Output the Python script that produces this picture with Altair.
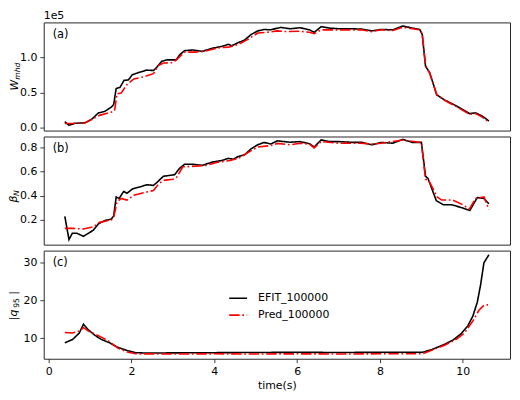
import altair as alt
import pandas as pd

SERIES = ["EFIT_100000", "Pred_100000"]
FONT = "DejaVu Sans"

# ---------- panel (a): W_mhd (units of 1e5) ----------
T_W_EFIT = [0.39, 0.49, 0.64, 0.88, 1.04, 1.20, 1.35, 1.51, 1.57, 1.63, 1.72, 1.82, 1.92, 2.02, 2.22,
            2.37, 2.53, 2.61, 2.73, 2.85, 3.08, 3.16, 3.28, 3.47, 3.71, 3.95, 4.18, 4.34, 4.42, 4.58,
            4.73, 4.89, 5.05, 5.20, 5.36, 5.60, 5.83, 6.07, 6.30, 6.41, 6.58, 6.78, 7.01, 7.33, 7.56,
            7.80, 8.03, 8.31, 8.55, 8.74, 8.96, 9.02, 9.10, 9.20, 9.37, 9.57, 9.84, 10.16, 10.31, 10.47, 10.63]
W_EFIT = [0.085, 0.035, 0.063, 0.07, 0.12, 0.21, 0.23, 0.29, 0.33, 0.555, 0.57, 0.67, 0.675, 0.75, 0.79,
          0.815, 0.81, 0.855, 0.94, 0.96, 0.96, 1.03, 1.09, 1.10, 1.08, 1.125, 1.15, 1.18, 1.16, 1.205,
          1.24, 1.32, 1.37, 1.39, 1.385, 1.42, 1.40, 1.415, 1.385, 1.35, 1.43, 1.41, 1.40, 1.40, 1.395,
          1.37, 1.39, 1.385, 1.44, 1.415, 1.39, 1.32, 0.87, 0.78, 0.465, 0.39, 0.31, 0.20, 0.21, 0.165, 0.095]
T_W_PRED = [0.39, 0.57, 0.88, 1.08, 1.23, 1.51, 1.59, 1.65, 1.75, 1.90, 2.06, 2.29, 2.53, 2.65, 2.77,
            3.00, 3.12, 3.28, 3.55, 3.79, 4.10, 4.34, 4.58, 4.81, 5.05, 5.36, 5.52, 5.75, 6.07, 6.30,
            6.41, 6.58, 7.01, 7.56, 7.80, 8.03, 8.31, 8.55, 8.96, 9.02, 9.10, 9.20, 9.37, 9.57, 9.84,
            10.16, 10.31, 10.47, 10.63]
W_PRED = [0.06, 0.06, 0.07, 0.13, 0.175, 0.22, 0.24, 0.48, 0.49, 0.62, 0.69, 0.72, 0.765, 0.88, 0.915,
          0.92, 0.98, 1.07, 1.07, 1.085, 1.13, 1.14, 1.18, 1.25, 1.34, 1.355, 1.37, 1.36, 1.365, 1.35,
          1.33, 1.385, 1.385, 1.385, 1.36, 1.385, 1.375, 1.42, 1.385, 1.33, 0.88, 0.77, 0.47, 0.385, 0.30,
          0.19, 0.20, 0.15, 0.08]

# ---------- panel (b): beta_N ----------
T_B_EFIT = [0.39, 0.49, 0.57, 0.68, 0.84, 0.96, 1.08, 1.20, 1.35, 1.51, 1.57, 1.63, 1.70, 1.81, 1.89,
            2.02, 2.22, 2.37, 2.53, 2.61, 2.77, 3.04, 3.16, 3.28, 3.47, 3.71, 3.95, 4.18, 4.34, 4.46,
            4.58, 4.73, 4.89, 5.05, 5.20, 5.36, 5.52, 5.83, 6.07, 6.30, 6.41, 6.58, 6.78, 7.01, 7.33,
            7.56, 7.80, 8.03, 8.31, 8.55, 8.78, 9.00, 9.10, 9.16, 9.36, 9.53, 9.72, 9.92, 10.17, 10.35,
            10.51, 10.63]
B_EFIT = [0.229, 0.038, 0.09, 0.09, 0.065, 0.09, 0.116, 0.168, 0.194, 0.207, 0.233, 0.39, 0.377, 0.435, 0.42,
          0.455, 0.474, 0.49, 0.485, 0.508, 0.56, 0.573, 0.625, 0.659, 0.659, 0.65, 0.677, 0.69, 0.708, 0.70,
          0.724, 0.737, 0.787, 0.82, 0.839, 0.826, 0.852, 0.841, 0.846, 0.828, 0.802, 0.86, 0.846, 0.846, 0.84,
          0.84, 0.82, 0.839, 0.833, 0.864, 0.84, 0.84, 0.56, 0.542, 0.359, 0.325, 0.325, 0.307, 0.278, 0.385,
          0.377, 0.333]
T_B_PRED = [0.39, 0.57, 0.84, 1.08, 1.23, 1.51, 1.57, 1.65, 1.75, 1.89, 2.06, 2.29, 2.53, 2.65, 2.77,
            3.00, 3.08, 3.24, 3.55, 3.79, 4.10, 4.38, 4.58, 4.81, 5.05, 5.36, 5.52, 5.83, 6.07, 6.30,
            6.41, 6.58, 7.01, 7.56, 7.80, 8.03, 8.55, 9.00, 9.10, 9.17, 9.38, 9.49, 9.76, 10.00, 10.16,
            10.31, 10.51, 10.63]
B_PRED = [0.13, 0.13, 0.125, 0.143, 0.18, 0.20, 0.22, 0.35, 0.377, 0.364, 0.403, 0.424, 0.443, 0.495, 0.526,
          0.535, 0.547, 0.638, 0.643, 0.65, 0.677, 0.69, 0.708, 0.755, 0.802, 0.813, 0.831, 0.82, 0.833, 0.825,
          0.794, 0.846, 0.833, 0.833, 0.825, 0.833, 0.859, 0.837, 0.535, 0.53, 0.39, 0.364, 0.364, 0.325, 0.29,
          0.377, 0.39, 0.287]

# ---------- panel (c): |q95| ----------
T_Q_EFIT = [0.39, 0.58, 0.74, 0.84, 0.96, 1.12, 1.27, 1.47, 1.67, 1.90, 2.10, 2.37, 3.0, 4.0, 5.0,
            6.0, 7.0, 8.0, 9.02, 9.25, 9.53, 9.76, 9.96, 10.12, 10.24, 10.35, 10.43, 10.51, 10.63]
Q_EFIT = [8.8, 9.7, 11.4, 13.7, 12.2, 10.75, 9.7, 8.8, 7.6, 6.75, 6.2, 6.1, 6.15, 6.2, 6.25,
          6.3, 6.25, 6.3, 6.3, 7.0, 8.25, 9.5, 11.2, 13.25, 15.75, 19.5, 24.1, 29.9, 32.0]
T_Q_PRED = [0.39, 0.57, 0.74, 0.84, 0.96, 1.12, 1.27, 1.47, 1.67, 1.90, 2.10, 3.0, 4.0, 5.0, 6.0,
            7.0, 8.0, 9.02, 9.29, 9.57, 9.84, 10.04, 10.24, 10.39, 10.51, 10.61]
Q_PRED = [11.5, 11.4, 11.9, 12.8, 11.9, 11.1, 10.3, 9.1, 7.4, 6.4, 5.9, 5.85, 5.9, 5.85, 5.9,
          5.85, 5.9, 5.9, 7.0, 8.25, 9.7, 11.4, 14.5, 17.4, 18.7, 18.8]

X_TICKS = [0, 2, 4, 6, 8, 10]
X_DOMAIN = [-0.12, 11.14]

W, H = 470, 109
TB = -26  # baseline offset of rotated y titles (relative to plot left)


def frame(t1, v1, t2, v2):
    return pd.concat([
        pd.DataFrame({"t": t1, "v": v1, "series": SERIES[0]}),
        pd.DataFrame({"t": t2, "v": v2, "series": SERIES[1]}),
    ], ignore_index=True)


one = pd.DataFrame({"d": [0]})


def txt(text, x, y, size=11, style="normal", angle=0, align="left"):
    return alt.Chart(one).mark_text(
        text=text, font=FONT, fontSize=size, fontStyle=style, angle=angle,
        align=align, baseline="alphabetic", color="black"
    ).encode(x=alt.value(x), y=alt.value(y))


def lines(df, ydomain, yticks, yfmt, show_x, legend):
    if show_x:
        xenc = alt.X("t:Q", scale=alt.Scale(domain=X_DOMAIN, nice=False, zero=False),
                     axis=alt.Axis(values=X_TICKS, format="d", title="time(s)"))
    else:
        xenc = alt.X("t:Q", scale=alt.Scale(domain=X_DOMAIN, nice=False, zero=False), axis=None)
    leg = None
    if legend:
        leg = alt.Legend(title=None, orient="none", legendX=186, legendY=38,
                         symbolType="stroke", symbolSize=324, symbolStrokeWidth=1.6,
                         labelFont=FONT, labelFontSize=11, labelColor="black",
                         labelOffset=10, padding=0, rowPadding=2)
    return alt.Chart(df).mark_line(strokeWidth=1.6, clip=True).encode(
        x=xenc,
        y=alt.Y("v:Q", scale=alt.Scale(domain=ydomain, nice=False, zero=False),
                axis=alt.Axis(values=yticks, format=yfmt, title=None)),
        color=alt.Color("series:N", scale=alt.Scale(domain=SERIES, range=["black", "red"]), legend=leg),
        strokeDash=alt.StrokeDash("series:N",
                                  scale=alt.Scale(domain=SERIES, range=[[1, 0], [10.5, 2.7, 1.7, 2.7]]),
                                  legend=leg),
        order=alt.Order("t:Q"),
    )


c_mid = H / 2

pa = alt.layer(
    lines(frame(T_W_EFIT, W_EFIT, T_W_PRED, W_PRED), [-0.04, 1.49], [0.0, 0.5, 1.0], ".1f", False, False),
    txt("(a)", 9, 16, size=11.5),
    txt("1e5", 0, -3),
    txt("W", TB, c_mid + 14, style="italic", angle=270),
    txt("mhd", TB + 1.7, c_mid + 3.3, size=7.7, style="italic", angle=270),
).properties(width=W, height=H)

pb = alt.layer(
    lines(frame(T_B_EFIT, B_EFIT, T_B_PRED, B_PRED), [-0.004, 0.888], [0.2, 0.4, 0.6, 0.8], ".1f", False, False),
    txt("(b)", 9, 16, size=11.5),
    txt("β", TB - 0.5, c_mid + 12, style="italic", angle=270),
    txt("N", TB + 1.2, c_mid + 5.4, size=7.7, style="italic", angle=270),
).properties(width=W, height=H)

pc = alt.layer(
    lines(frame(T_Q_EFIT, Q_EFIT, T_Q_PRED, Q_PRED), [4.6, 33.1], [10, 20, 30], "d", True, True),
    txt("(c)", 9, 16, size=11.5),
    txt("|", TB - 0.5, c_mid + 16, angle=270),
    txt("q", TB - 0.5, c_mid + 12, style="italic", angle=270),
    txt("95", TB + 1, c_mid + 3.2, size=7.7, angle=270),
    txt("|", TB - 0.5, c_mid - 10, angle=270),
).properties(width=W, height=H)

chart = alt.vconcat(pa, pb, pc, spacing=6, bounds="flush").resolve_scale(
    y="independent", color="independent", strokeDash="independent"
).resolve_legend(color="independent", strokeDash="independent").properties(
    padding={"left": 0, "right": 1, "top": 0, "bottom": 2}
).configure_view(
    stroke="#262626", strokeWidth=1
).configure_axis(
    domain=False, grid=False, ticks=True, tickSize=3.9, tickWidth=0.9, tickColor="#262626",
    labelFont=FONT, labelFontSize=11, labelColor="black", labelPadding=3,
    titleFont=FONT, titleFontSize=11, titleFontWeight="normal", titleColor="black", titlePadding=3,
)

chart.save("out.html", embed_options={"renderer": "svg", "actions": False})
